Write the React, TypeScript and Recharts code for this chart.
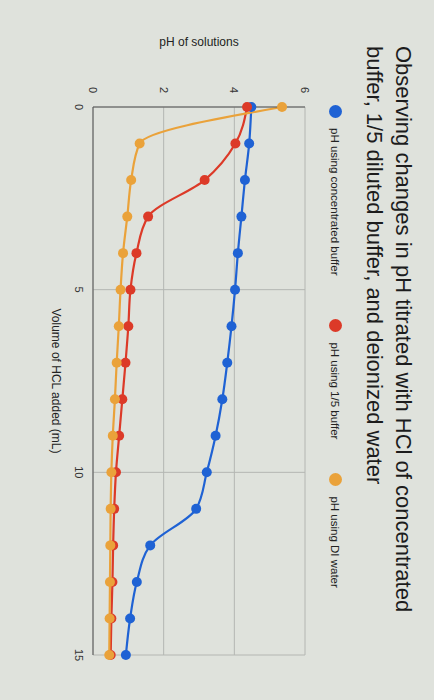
import { CartesianGrid, Legend, Line, LineChart, XAxis, YAxis } from "recharts";

// values (x: mL of HCl, y: pH)
const volumes = [0, 1, 2, 3, 4, 5, 6, 7, 8, 9, 10, 11, 12, 13, 14, 15];
const concentrated = [4.48, 4.42, 4.3, 4.2, 4.1, 4.02, 3.92, 3.8, 3.66, 3.47, 3.22, 2.92, 1.62, 1.24, 1.05, 0.93];
const diluted = [4.36, 4.03, 3.16, 1.56, 1.23, 1.06, 1.0, 0.92, 0.83, 0.74, 0.65, 0.6, 0.57, 0.55, 0.52, 0.5];
const water = [5.35, 1.32, 1.08, 0.97, 0.85, 0.78, 0.73, 0.67, 0.62, 0.56, 0.52, 0.5, 0.49, 0.48, 0.47, 0.46];

const volumeTicks = [0, 5, 10, 15];
const phTicks = [0, 2, 4, 6];

const series = [
  { key: "concentrated", name: "pH using concentrated buffer", color: "#1f62d4" },
  { key: "diluted", name: "pH using 1/5 buffer", color: "#dc3a28" },
  { key: "water", name: "pH using DI water", color: "#eaa23a" },
];

const rows = volumes.map((v, i) => ({
  vol: v,
  concentrated: concentrated[i],
  diluted: diluted[i],
  water: water[i],
}));

const FONT = '"Liberation Sans", Arial, sans-serif';
const BG = "#dfe2dc";

function LegendRow() {
  const gaps = [44, 34, 0];
  return (
    <div style={{ display: "flex", alignItems: "center", fontFamily: FONT, fontSize: 11.5, color: "#222" }}>
      {series.map((s, i) => (
        <div key={s.key} style={{ display: "flex", alignItems: "center", marginRight: gaps[i] }}>
          <span
            style={{
              width: 13,
              height: 13,
              borderRadius: "50%",
              background: s.color,
              marginRight: 10,
              display: "inline-block",
            }}
          />
          <span>{s.name}</span>
        </div>
      ))}
    </div>
  );
}

export default function App() {
  return (
    <div style={{ width: 434, height: 700, position: "relative", overflow: "hidden", background: BG }}>
      <style>{`body{margin:0}`}</style>
      <div
        style={{
          position: "absolute",
          left: 0,
          top: 0,
          width: 700,
          height: 434,
          transformOrigin: "0 0",
          transform: "translate(434px, 0) rotate(90deg)",
        }}
      >
        <div
          style={{
            position: "absolute",
            left: 46,
            top: 16,
            fontFamily: FONT,
            fontSize: 22,
            lineHeight: "29px",
            color: "#1c1c1c",
            whiteSpace: "nowrap",
          }}
        >
          Observing changes in pH titrated with HCl of concentrated
          <br />
          buffer, 1/5 diluted buffer, and deionized water
        </div>
        <LineChart width={700} height={434} data={rows} margin={{ top: 129, right: 45, bottom: 63, left: 40 }}>
          <CartesianGrid stroke="#b4b6b2" />
          <XAxis
            dataKey="vol"
            type="number"
            domain={[0, 15]}
            ticks={volumeTicks}
            tickLine={false}
            axisLine={{ stroke: "#555" }}
            tick={{ fill: "#333", fontSize: 11, fontFamily: FONT }}
            tickMargin={4}
            label={{
              value: "Volume of HCL added (mL)",
              position: "bottom",
              offset: 2,
              style: { fill: "#222", fontSize: 12, fontFamily: FONT },
            }}
          />
          <YAxis
            type="number"
            domain={[0, 6]}
            ticks={phTicks}
            width={67}
            tickLine={false}
            axisLine={{ stroke: "#555" }}
            tick={{ fill: "#333", fontSize: 11, fontFamily: FONT }}
            tickMargin={8}
            label={{
              value: "pH of solutions",
              angle: -90,
              position: "insideLeft",
              offset: 2,
              style: { fill: "#222", fontSize: 12, fontFamily: FONT, textAnchor: "middle" },
            }}
          />
          <Legend
            verticalAlign="middle"
            align="center"
            layout="horizontal"
            content={() => <LegendRow />}
            wrapperStyle={{ top: 92, left: 105, width: "auto" }}
          />
          {series.map((s) => (
            <Line
              key={s.key}
              dataKey={s.key}
              name={s.name}
              type="monotone"
              stroke={s.color}
              strokeWidth={2.2}
              dot={{ r: 5, fill: s.color, stroke: s.color, strokeWidth: 0 }}
              activeDot={false}
              isAnimationActive={false}
            />
          ))}
        </LineChart>
      </div>
    </div>
  );
}
